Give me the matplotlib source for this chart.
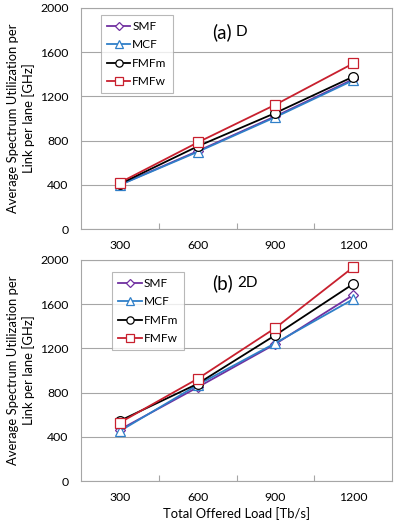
import matplotlib
matplotlib.use("Agg")
import matplotlib.pyplot as plt
from matplotlib.ticker import FixedLocator

plt.rcParams['font.family'] = ['Lato', 'DejaVu Sans']

loads = [300, 600, 900, 1200]
series_names = ["SMF", "MCF", "FMFm", "FMFw"]

# Panel (a) D
a_smf = [400, 705, 1020, 1355]
a_mcf = [398, 698, 1012, 1345]
a_fmfm = [408, 748, 1050, 1378]
a_fmfw = [420, 783, 1125, 1498]

# Panel (b) 2D
b_smf = [465, 848, 1240, 1683]
b_mcf = [452, 870, 1248, 1645]
b_fmfm = [545, 880, 1320, 1783]
b_fmfw = [528, 925, 1385, 1934]

y_ticks = [0, 400, 800, 1200, 1600, 2000]

colors = {"SMF": "#7030A0", "MCF": "#2F7FC8", "FMFm": "#000000", "FMFw": "#C8202E"}
markers = {"SMF": "D", "MCF": "^", "FMFm": "o", "FMFw": "s"}
msizes = {"SMF": 5.5, "MCF": 7.0, "FMFm": 7.0, "FMFw": 7.3}

fig = plt.figure(figsize=(3.96, 5.25), dpi=100)
W, H = 396, 525

def make_ax(top_px, bottom_px):
    left, right = 81, 392
    return fig.add_axes([left / W, 1 - bottom_px / H, (right - left) / W, (bottom_px - top_px) / H])

ax_a = make_ax(8, 229)
ax_b = make_ax(260, 481)

panels = [
    (ax_a, [a_smf, a_mcf, a_fmfm, a_fmfw], "(a)", "D", (0.063, 0.968), 0.89),
    (ax_b, [b_smf, b_mcf, b_fmfm, b_fmfw], "(b)", "2D", (0.0997, 0.946), 0.895),
]

grid_col = "#A6A6A6"
for ax, data, lab1, lab2, leg_anchor, ty in panels:
    for name, vals in zip(series_names, data):
        ax.plot(loads, vals, color=colors[name], lw=1.3, marker=markers[name],
                markersize=msizes[name], markerfacecolor="white",
                markeredgecolor=colors[name], markeredgewidth=0.9, label=name)
    ax.set_xlim(150, 1350)
    ax.set_ylim(0, 2000)
    ax.set_yticks(y_ticks)
    ax.set_xticks(loads)
    ax.xaxis.set_minor_locator(FixedLocator([450, 750, 1050]))
    ax.tick_params(axis='x', which='major', length=0, pad=8, labelsize=8.8, colors='#000000')
    ax.tick_params(axis='x', which='minor', length=4, direction='in', color=grid_col, width=0.8)
    ax.tick_params(axis='y', length=0, pad=9, labelsize=8.8)
    ax.grid(axis='y', color=grid_col, lw=0.8)
    ax.set_axisbelow(True)
    for sp in ax.spines.values():
        sp.set_color(grid_col)
        sp.set_linewidth(0.8)
    ax.set_ylabel("Average Spectrum Utilization per\nLink per lane [GHz]", fontsize=9.4,
                  linespacing=1.25)
    ax.yaxis.set_label_coords(-0.148, 0.5)
    leg = ax.legend(loc='upper left', bbox_to_anchor=leg_anchor, borderaxespad=0,
                    fontsize=8.6, frameon=True, fancybox=False, edgecolor=grid_col,
                    handlelength=2.0, handletextpad=0.15, labelspacing=0.62,
                    borderpad=0.5, markerscale=0.75)
    leg.get_frame().set_linewidth(0.8)
    t1 = ax.text(0.421, ty, lab1, transform=ax.transAxes, fontsize=13.5, va='center', ha='left')
    ax.annotate(lab2, xy=(1, 0.5), xycoords=t1, xytext=(3, 0), textcoords='offset points',
                fontsize=11, va='center', ha='left')

ax_b.set_xlabel("Total Offered Load [Tb/s]", fontsize=9.4, labelpad=3)

fig.savefig("out.png", dpi=100)
